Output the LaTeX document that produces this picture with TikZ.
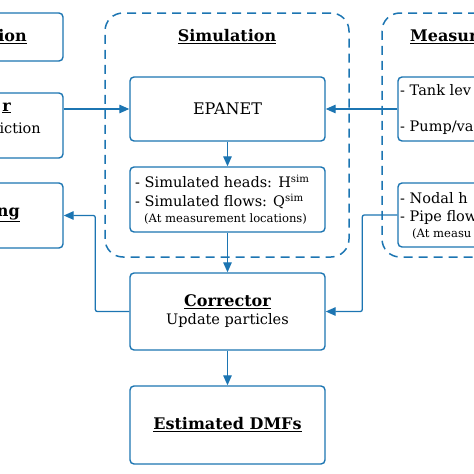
\documentclass[tikz,border=0pt]{standalone}
\usepackage{fontspec}
\setmainfont{DejaVu Serif}
\usetikzlibrary{arrows.meta}
\definecolor{flow}{RGB}{28,117,178}
\begin{document}
\begin{tikzpicture}[x=1pt,y=-1pt]
\tikzset{link/.style={-{Triangle[length=10pt,width=8.5pt]},draw=flow,line width=1.3pt}}
\tikzstyle{box}=[draw=flow,line width=1.4pt,rounded corners=4pt,fill=white,inner sep=0pt]
\tikzstyle{group}=[draw=flow,line width=1.5pt,rounded corners=18pt,dash pattern=on 9pt off 6pt,inner sep=0pt]
\tikzstyle{txt}=[inner sep=0pt,font=\fontsize{14.5}{19}\selectfont]
\tikzstyle{head}=[inner sep=0pt,font=\fontsize{16}{18}\selectfont\bfseries]
\useasboundingbox (0,0) rectangle (474,474);
\clip (0,0) rectangle (474,474);
% dashed groups
\node[group,minimum width=244pt,minimum height=244pt] (sim)at(227,135){};
\node[group,minimum width=218pt,minimum height=244pt] (meas)at(491,135){};
\node[head] (simt)at(227,37){\underline{Simulation}};
\node[head,anchor=west] (meast)at(410,37){\underline{Measur}};
% left column (cut)
\node[box,minimum width=123pt,minimum height=48pt] (init)at(1.5,37){};
\node[head,anchor=east] (initt)at(27,37){\underline{ion}};
\node[box,minimum width=123pt,minimum height=65pt] (pred)at(1.5,125.5){};
\node[head,anchor=east] (predt)at(11,108){\underline{r}};
\node[txt,anchor=east] (preds)at(41,128){iction};
\node[box,minimum width=123pt,minimum height=65pt] (res)at(1.5,215.5){};
\node[head,anchor=east] (rest)at(20,215){\underline{ng}};
% simulation
\node[box,minimum width=195pt,minimum height=64pt,font=\fontsize{16}{18}\selectfont] (epanet)at(227.5,109){EPANET};
\node[box,minimum width=195pt,minimum height=65pt] (simout)at(227.5,199.5){};
\node[txt,align=left,anchor=west] (simtx)at(135,199.5){- Simulated heads: H\textsuperscript{sim}\\- Simulated flows: Q\textsuperscript{sim}\\[-3pt]\hspace*{9pt}{\fontsize{11.6}{13}\selectfont (At measurement locations)}};
% measurements (cut)
\node[box,minimum width=202pt,minimum height=64pt] (tank)at(499,109){};
\node[txt,anchor=west] (tank1)at(400,90){- Tank lev};
\node[txt,anchor=west] (tank2)at(400,128){- Pump/va};
\node[box,minimum width=202pt,minimum height=64pt] (nodal)at(499,215){};
\node[txt,anchor=west] (nodal1)at(400,198){- Nodal h};
\node[txt,anchor=west] (nodal2)at(400,217){- Pipe flow};
\node[txt,anchor=west,font=\fontsize{11.6}{13}\selectfont] (nodal3)at(412,234){(At measu};
% corrector and result
\node[box,minimum width=195pt,minimum height=77pt,txt,align=center] (corr)at(227.5,311.5){{\fontsize{16}{18}\selectfont\bfseries\underline{Corrector}}\\[-1pt]Update particles};
\node[box,minimum width=195pt,minimum height=78pt,font=\fontsize{16}{18}\selectfont\bfseries] (est)at(227.5,425){\underline{Estimated DMFs}};
% connectors
\draw[link] (epanet-|pred.east)--(epanet.west);
\draw[link] (tank.west)--(epanet.east);
\draw[link] (epanet.south)--(simout.north);
\draw[link] (simout.south)--(corr.north);
\draw[link] (corr.south)--(est.north);
\draw[link,rounded corners=2pt] (corr.west)--++(-34,0)|-(res.east);
\draw[link,rounded corners=2pt] (nodal.west)--++(-35,0)|-(corr.east);
\end{tikzpicture}
\end{document}
